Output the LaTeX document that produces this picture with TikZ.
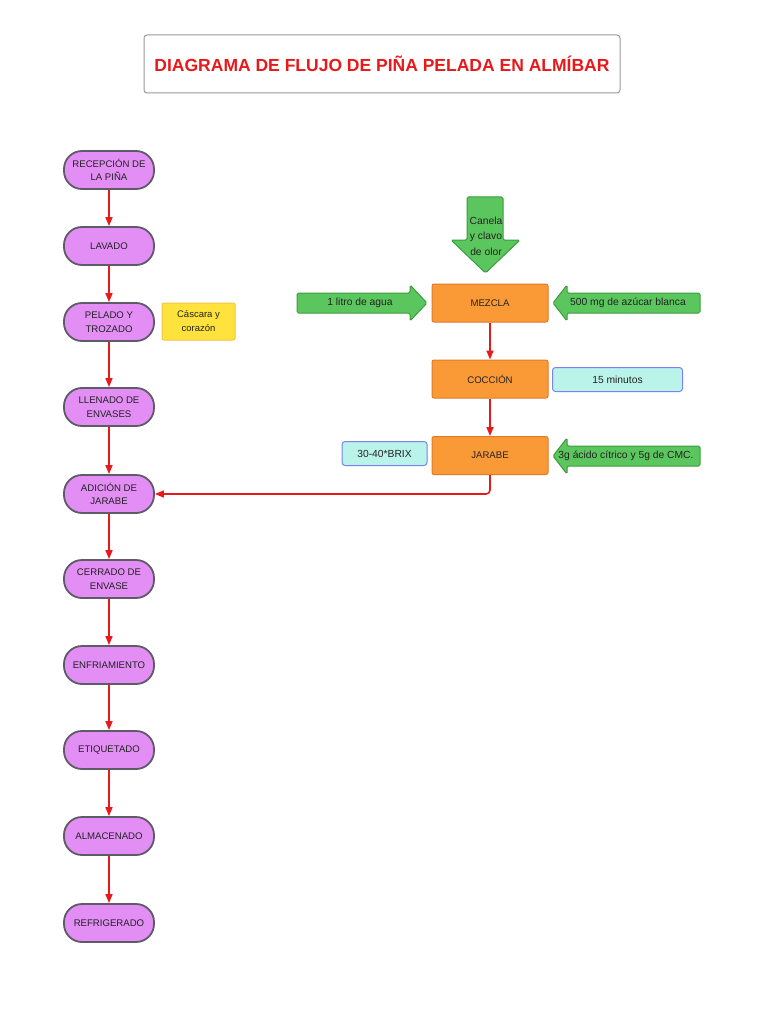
\documentclass[tikz,border=0pt]{standalone}
\usepackage{fontspec}
\setmainfont{Liberation Sans}
\usepackage{xcolor}
\usetikzlibrary{positioning,arrows.meta}
\definecolor{lila}{HTML}{E38EF5}
\definecolor{lilaborde}{HTML}{5E5A66}
\definecolor{naranja}{HTML}{FA9A36}
\definecolor{naranjaborde}{HTML}{E27A2A}
\definecolor{verde}{HTML}{5CC65E}
\definecolor{verdeborde}{HTML}{3A9E3C}
\definecolor{celeste}{HTML}{B9F3EA}
\definecolor{celesteborde}{HTML}{7A83EE}
\definecolor{amarillo}{HTML}{FFE23C}
\definecolor{amarilloborde}{HTML}{F2C644}
\definecolor{rojo}{HTML}{E8191B}
\definecolor{texto}{HTML}{222222}

\begin{document}
\begin{tikzpicture}[x=1pt, y=-1pt,
    every node/.style={text=texto},
    paso/.style={draw=lilaborde, fill=lila, line width=1.8pt, rounded corners=18pt,
        minimum width=90pt, minimum height=38pt, align=center, inner sep=1pt,
        font=\fontsize{9.6}{13.5}\selectfont},
    proceso/.style={draw=naranjaborde, fill=naranja, line width=1pt, rounded corners=2pt,
        minimum width=116pt, minimum height=38pt, font=\fontsize{9.6}{12}\selectfont},
    dato/.style={draw=celesteborde, fill=celeste, line width=1pt, rounded corners=3pt,
        inner sep=0pt, font=\fontsize{10.3}{12}\selectfont},
    insumo/.style={draw=verdeborde, fill=verde, line width=1pt, rounded corners=1.5pt},
    flecha/.style={draw=rojo, line width=1.6pt, -{Triangle[width=7pt,length=9pt]}}]

\fill[white] (0,0) rectangle (768,1024);
\useasboundingbox (0,0) rectangle (768,1024);

% titulo
\node[draw=black!40, line width=1pt, rounded corners=3pt, minimum width=476pt, minimum height=58pt,
    text=rojo, font=\fontsize{17.5}{20}\bfseries] (titulo) at (382,64)
    {DIAGRAMA DE FLUJO DE PIÑA PELADA EN ALMÍBAR};

% linea principal
\node[paso] (recepcion) at (109,170) {RECEPCIÓN DE\\LA PIÑA};
\node[paso] (lavado) at (109,246) {LAVADO};
\node[paso] (pelado) at (109,322) {PELADO Y\\TROZADO};
\node[paso] (llenado) at (109,407) {LLENADO DE\\ENVASES};
\node[paso] (adicion) at (109,494) {ADICIÓN DE\\JARABE};
\node[paso] (cerrado) at (109,579) {CERRADO DE\\ENVASE};
\node[paso] (enfriamiento) at (109,665) {ENFRIAMIENTO};
\node[paso] (etiquetado) at (109,750) {ETIQUETADO};
\node[paso] (almacenado) at (109,836) {ALMACENADO};
\node[paso] (refrigerado) at (109,923) {REFRIGERADO};

\draw[flecha] (recepcion) -- (lavado);
\draw[flecha] (lavado) -- (pelado);
\draw[flecha] (pelado) -- (llenado);
\draw[flecha] (llenado) -- (adicion);
\draw[flecha] (adicion) -- (cerrado);
\draw[flecha] (cerrado) -- (enfriamiento);
\draw[flecha] (enfriamiento) -- (etiquetado);
\draw[flecha] (etiquetado) -- (almacenado);
\draw[flecha] (almacenado) -- (refrigerado);

\node[draw=amarilloborde, fill=amarillo, line width=1pt, rounded corners=2pt, minimum width=73pt,
    minimum height=37pt, align=center, inner sep=0pt, font=\fontsize{9.5}{14}\selectfont]
    (cascara) at (198.5,321.5) {Cáscara y\\corazón};

% jarabe
\node[proceso] (mezcla) at (490,303) {MEZCLA};
\node[proceso] (coccion) at (490,379) {COCCIÓN};
\node[proceso] (jarabe) at (490,455.5) {JARABE};

\draw[flecha] (mezcla) -- (coccion);
\draw[flecha] (coccion) -- (jarabe);
\draw[flecha, rounded corners=4pt] (jarabe.south) |- (adicion.east);

\node[dato, minimum width=130pt, minimum height=24pt] (minutos) at (617.5,379.5) {15 minutos};
\node[dato, minimum width=85pt, minimum height=24pt] (brix) at (384.5,453.5) {30-40*BRIX};

% insumos
\filldraw[insumo] (297,293) -- (410,293) -- (410,285) -- (427,303) -- (410,321) -- (410,313)
    -- (297,313) -- cycle;
\node[font=\fontsize{10.3}{12}\selectfont] (agua) at (360,303) {1 litro de agua};

\filldraw[insumo] (700,293) -- (567,293) -- (567,285) -- (553,303) -- (567,321) -- (567,313)
    -- (700,313) -- cycle;
\node[font=\fontsize{10.3}{12}\selectfont] (azucar) at (628,303) {500 mg de azúcar blanca};

\filldraw[insumo] (467,197) -- (503,197) -- (503,240) -- (520,240) -- (485.5,273) -- (451,240)
    -- (467,240) -- cycle;
\node[align=center, inner sep=0pt, font=\fontsize{10.3}{15.5}\selectfont] (canela) at (486,236)
    {Canela\\y clavo\\de olor};

\filldraw[insumo] (700,446) -- (567,446) -- (567,438) -- (553,456) -- (567,474) -- (567,466)
    -- (700,466) -- cycle;
\node[font=\fontsize{10.3}{12}\selectfont] (citrico) at (626,456) {3g ácido cítrico y 5g de CMC.};

\end{tikzpicture}
\end{document}
